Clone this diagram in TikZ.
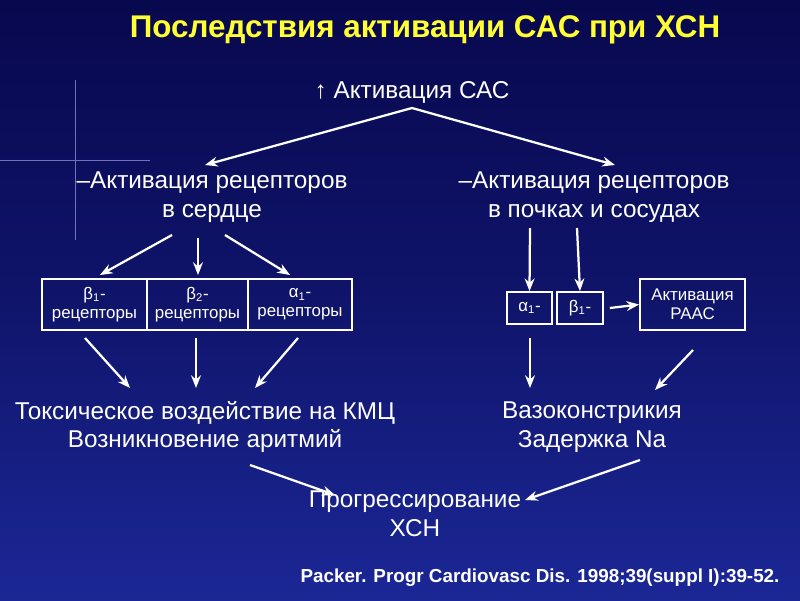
\documentclass[tikz,border=0pt]{standalone}
\usepackage{fontspec}
\setmainfont{Liberation Sans}
\usetikzlibrary{arrows.meta}
\definecolor{bgA}{HTML}{08084E}
\definecolor{bgB}{HTML}{1B2796}
\definecolor{ttl}{HTML}{FFFF33}
\begin{document}
\begin{tikzpicture}[x=0.025cm,y=-0.025cm,
  txt/.style={text=white,align=center,font=\fontsize{17.3}{20.5}\selectfont,inner sep=1pt},
  sm/.style={text=white,align=center,font=\fontsize{12}{13.5}\selectfont,inner sep=1pt},
  bx/.style={draw=white,line width=1.2pt,minimum height=51*0.025cm},
  ar/.style={draw=white,line width=1.6pt,-{Stealth[length=9pt,width=7pt]}}]
\shade[top color=bgA,bottom color=bgB,middle color=bgA!60!bgB] (0,0) rectangle (800,600);
\useasboundingbox (0,0) rectangle (800,600);
\draw[white!70!blue,line width=0.6pt,opacity=0.6] (75,80)--(75,240) (0,160)--(150,160);
\node[text=ttl,font=\bfseries\fontsize{22.3}{24}\selectfont] (title) at (425,30) {Последствия активации САС при ХСН};
\node[txt] (top) at (412,92) {↑ Активация САС};
\node[txt] (L) at (212,197) {–Активация рецепторов\\в сердце};
\node[txt] (R) at (594,197) {–Активация рецепторов\\в почках и сосудах};
\coordinate (t0) at (412,108);
\coordinate (l0) at (205,165);
\coordinate (r0) at (615,165);
\draw[ar] (t0)--(l0);
\draw[ar] (t0)--(r0);
% left boxes
\node[bx,sm,minimum width=105*0.025cm] (b1) at (94.5,304.5) {β\textsubscript{1}-\\рецепторы};
\node[bx,sm,minimum width=101*0.025cm] (b2) at (197.5,304.5) {β\textsubscript{2}-\\рецепторы};
\node[bx,sm,minimum width=104*0.025cm] (b3) at (300,304.5) {α\textsubscript{1}-\\рецепторы};
\coordinate (la) at (172,235); \coordinate (lb) at (198,238); \coordinate (lc) at (225,235);
\coordinate (la2) at (100,275); \coordinate (lb2) at (198,275); \coordinate (lc2) at (290,275);
\draw[ar] (la)--(la2); \draw[ar] (lb)--(lb2); \draw[ar] (lc)--(lc2);
% right boxes
\node[bx,sm,minimum width=45*0.025cm,minimum height=32*0.025cm] (a1) at (529.5,308) {α\textsubscript{1}-};
\node[bx,sm,minimum width=46*0.025cm,minimum height=32*0.025cm] (c1) at (580,308) {β\textsubscript{1}-};
\node[bx,sm,minimum width=105*0.025cm] (raas) at (692.5,304.5) {Активация\\РААС};
\coordinate (ra) at (530,228); \coordinate (rb) at (577,228);
\draw[ar] (ra)--(a1.north); \draw[ar] (rb)--(c1.north);
\draw[ar] (c1.east)++(6,0) coordinate (ce) (ce)--(raas.west);
% lower
\node[txt] (tox) at (205,427) {Токсическое воздействие на КМЦ\\Возникновение аритмий};
\node[txt] (vaso) at (592,427) {Вазоконстрикия\\Задержка Na};
\coordinate (d1) at (85,338); \coordinate (d1e) at (130,388);
\coordinate (d2) at (196,338); \coordinate (d2e) at (196,388);
\coordinate (d3) at (298,338); \coordinate (d3e) at (255,388);
\coordinate (d4) at (530,338); \coordinate (d4e) at (530,388);
\coordinate (d5) at (693,350); \coordinate (d5e) at (655,390);
\draw[ar] (d1)--(d1e); \draw[ar] (d2)--(d2e); \draw[ar] (d3)--(d3e);
\draw[ar] (d4)--(d4e); \draw[ar] (d5)--(d5e);
\node[txt] (prog) at (415,514) {Прогрессирование\\ХСН};
\coordinate (p1) at (250,465); \coordinate (p1e) at (335,495);
\coordinate (p2) at (640,460); \coordinate (p2e) at (525,500);
\draw[ar] (p1)--(p1e); \draw[ar] (p2)--(p2e);
\node[text=white,font=\bfseries\fontsize{13.4}{15}\selectfont] (ref) at (540,578) {Packer. Progr Cardiovasc Dis. 1998;39(suppl I):39-52.};
\end{tikzpicture}
\end{document}
